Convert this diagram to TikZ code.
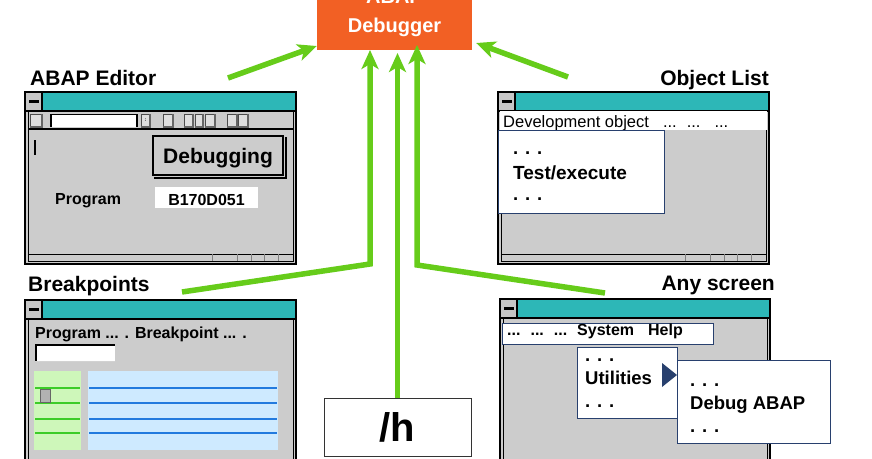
\documentclass[tikz,border=0pt]{standalone}
\usepackage{fontspec}
\setmainfont{Liberation Sans}
\usetikzlibrary{arrows.meta}

\definecolor{dbgorange}{RGB}{242,96,36}
\definecolor{arrowgreen}{RGB}{102,204,26}
\definecolor{titleteal}{RGB}{45,183,183}
\definecolor{wingray}{RGB}{204,204,204}
\definecolor{menunavy}{RGB}{40,64,110}
\definecolor{bpgreen}{RGB}{206,247,186}
\definecolor{bpline}{RGB}{60,204,40}
\definecolor{srcblue}{RGB}{206,234,255}
\definecolor{srcline}{RGB}{34,122,222}

\tikzset{
  garrow/.style={arrowgreen,line width=5.5pt,-{Stealth[length=19pt,width=17pt,inset=5pt]}},
  wlabel/.style={inner sep=0pt,font=\fontsize{21}{24}\selectfont\bfseries},
  dbgbox/.style={fill=dbgorange,text=white,align=center,inner sep=0pt,
    minimum width=155pt,minimum height=74pt,font=\fontsize{20}{29}\selectfont\bfseries},
  btn/.style={draw,line width=1.8pt,fill=wingray,inner sep=0pt,minimum width=130pt,
    minimum height=39pt,text height=16.8pt,text depth=0pt,font=\fontsize{21}{24}\selectfont\bfseries},
  valbox/.style={fill=white,inner sep=0pt,minimum width=103pt,minimum height=21pt,
    text height=15pt,text depth=0pt,font=\fontsize{16}{19}\selectfont\bfseries},
  fieldtxt/.style={inner sep=0pt,font=\fontsize{16}{19}\selectfont\bfseries},
  menutxt/.style={inner sep=0pt,font=\fontsize{16.5}{19}\selectfont},
  ddtxt/.style={inner sep=0pt,font=\fontsize{18.5}{22}\selectfont\bfseries},
  ddbox/.style={draw=menunavy,line width=0.8pt,fill=white},
  tbtn/.style={draw=black!70,line width=0.8pt,fill=gray!25},
  hbox/.style={draw=black!80,line width=0.9pt,fill=white,minimum width=147pt,minimum height=58pt,
    text height=28pt,text depth=0pt,font=\fontsize{40}{44}\selectfont\bfseries}
}

\begin{document}
\begin{tikzpicture}[x=1pt,y=-1pt]
\clip (0,0) rectangle (872,458);

% the four windows
\foreach \xa/\ya/\xb/\yb in {25/92/296/264,498/92/769/264,25/300/296/472,500/299/770/472}{
  \fill[wingray] (\xa,\ya) rectangle (\xb,\yb);
  \fill[titleteal] (\xa,\ya) rectangle (\xb,\ya+19);
  \fill[gray!45] (\xa,\ya) rectangle (\xa+17,\ya+19);
  \fill (\xa+4,\ya+8) rectangle (\xa+14,\ya+11);
  \draw[line width=1.2pt] (\xa+17,\ya) -- (\xa+17,\ya+19) (\xa,\ya+19) -- (\xb,\ya+19);
  \draw[line width=1.5pt] (\xa,\ya) rectangle (\xb,\yb);
  \draw[line width=0.7pt] (\xa+3,\ya+19) -- (\xa+3,\yb-3) -- (\xb-3,\yb-3) -- (\xb-3,\ya+19);
}
\foreach \xa/\xb/\yb in {25/296/264,498/769/264}{
  \draw[line width=0.9pt] (\xa+3,\yb-10) -- (\xb-3,\yb-10);
  \foreach \d in {84,59,45,32,18}
    \draw[black!50,line width=0.5pt] (\xb-\d,\yb-10) -- (\xb-\d,\yb-3);
}

\node[wlabel,anchor=base west] (edlbl) at (30,85) {ABAP Editor};
\node[wlabel,anchor=base east] (oblbl) at (769,85) {Object List};
\node[wlabel,anchor=base west] (bplbl) at (28,291) {Breakpoints};
\node[wlabel,anchor=base east] (anylbl) at (775,290) {Any screen};

% ABAP Editor
\foreach \xa/\xb in {30/42,141/150,163/173,184/193,195/203,205/215,227/237,238/248}{
  \draw[tbtn] (\xa,114) rectangle (\xb,127);
  \draw[black!60,line width=1.5pt] (\xa,127) -- (\xb,127) -- (\xb,114);
}
\fill[white] (50,114) rectangle (137,127);
\draw[line width=1.6pt] (51,127) -- (51,114.5) -- (137,114.5);
\draw[line width=1.2pt] (137,114) -- (137,127);
\node[inner sep=0pt,font=\tiny\bfseries] (colon) at (145.5,120.5) {:};
\draw[line width=1.2pt] (28,129) -- (293,129);
\draw[line width=1.2pt] (35,140) -- (35,155);
\node[btn] (debugbtn) at (218,155.5) {Debugging};
\draw[line width=1.8pt] ([shift={(2pt,-2pt)}]debugbtn.north east) -- ([shift={(2pt,-2pt)}]debugbtn.south east)
  -- ([shift={(2pt,-2pt)}]debugbtn.south west);
\node[fieldtxt,anchor=base west] (proglbl) at (55,204) {Program};
\node[valbox] (progval) at (206.5,197.5) {B170D051};

% Object List
\fill[white] (500,111) rectangle (767,130);
\node[menutxt,anchor=base west] (devobj) at (503,127) {Development object\hspace{14pt}...\hspace{10pt}...\hspace{14pt}...};
\draw[ddbox] (498,130) rectangle (664,213);
\node[ddtxt,anchor=base west] (obdotsa) at (513,154) {. . .};
\node[ddtxt,anchor=base west,font=\fontsize{19}{22}\selectfont\bfseries] (obtest) at (513,179) {Test/execute};
\node[ddtxt,anchor=base west] (obdotsb) at (513,200) {. . .};

% Breakpoints
\node[fieldtxt,anchor=base west] (bphead) at (35,338) {Program ... . Breakpoint ... .};
\fill[white] (35,344) rectangle (115,362);
\draw[line width=2pt] (36,362) -- (36,345) -- (115,345);
\draw[gray!35,line width=1pt] (35,361) -- (115,361);
\fill[bpgreen] (34,371) rectangle (81,450);
\fill[srcblue] (88,371) rectangle (278,450);
\foreach \y in {388,403,419,433}{
  \draw[bpline,line width=1.8pt] (35,\y) -- (80,\y);
  \draw[srcline,line width=1.8pt] (89,\y) -- (277,\y);
}
\draw[fill=gray!60,draw=gray!80!black] (40,389) rectangle (50,402);

% Any screen
\draw[ddbox] (502,323) rectangle (713,344);
\node[fieldtxt,anchor=base west] (anymenu) at (507,335) {...\hspace{10pt}...\hspace{10pt}...\hspace{10pt}System\hspace{14pt}Help};
\draw[ddbox] (577,347) rectangle (677,418);
\node[ddtxt,anchor=base west] (utdotsa) at (585,361) {. . .};
\node[ddtxt,anchor=base west] (utils) at (585,384) {Utilities};
\node[ddtxt,anchor=base west] (utdotsb) at (585,407) {. . .};
\fill[menunavy] (662,363) -- (677,375) -- (662,387) -- cycle;
\draw[ddbox] (677,360) rectangle (830,443);
\node[ddtxt,anchor=base west] (dbdotsa) at (690,386) {. . .};
\node[ddtxt,anchor=base west] (dbabap) at (690,409) {Debug ABAP};
\node[ddtxt,anchor=base west] (dbdotsb) at (690,432) {. . .};

% debugger and /h
\node[dbgbox,anchor=south] (dbg) at (394.5,50) {ABAP\\Debugger};
\node[hbox] (hkey) at (397.5,427) {/h};

% arrows
\coordinate (edtail) at (228,78);
\coordinate (obtail) at (568,77);
\coordinate (bptail) at (182,292);
\coordinate (bpbend) at (370,264);
\coordinate (anytail) at (605,293);
\coordinate (anybend) at (417,265);
\draw[garrow] (edtail) -- ([yshift=4pt]dbg.south west);
\draw[garrow] (obtail) -- ([xshift=4pt,yshift=7pt]dbg.south east);
\draw[garrow] (bptail) -- (bpbend) -- (bpbend |- dbg.south);
\draw[garrow,shorten >=3pt] (hkey.north) -- (hkey.north |- dbg.south);
\draw[garrow,shorten >=-5pt] (anytail) -- (anybend) -- (anybend |- dbg.south);
\end{tikzpicture}
\end{document}
